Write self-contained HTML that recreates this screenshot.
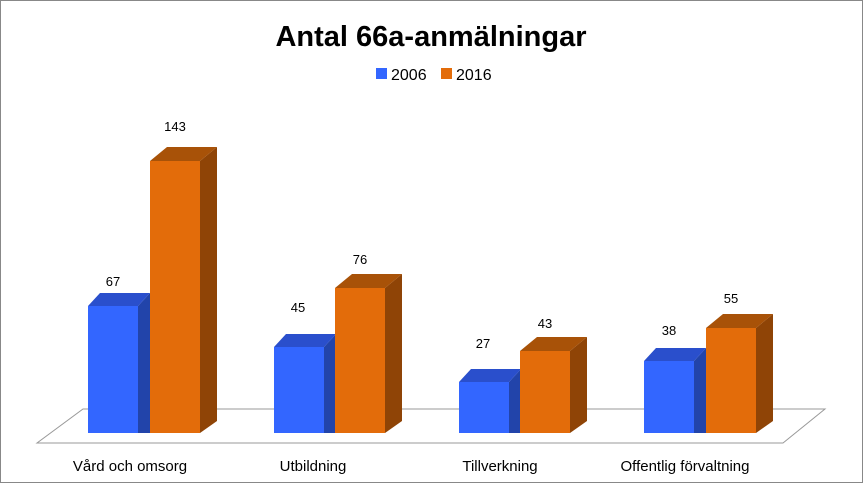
<!DOCTYPE html>
<html><head><meta charset="utf-8"><style>
body{margin:0;background:#fff}
svg{display:block;font-family:"Liberation Sans",sans-serif}
</style></head><body>
<svg width="863" height="483" viewBox="0 0 863 483">
<rect x="0.5" y="0.5" width="862" height="482" fill="#fff" stroke="#888"/>
<text x="431" y="46" font-size="29" font-weight="bold" text-anchor="middle">Antal 66a-anmälningar</text>
<rect x="376" y="68" width="11" height="11" fill="#3366ff"/>
<text x="391" y="80" font-size="16">2006</text>
<rect x="441" y="68" width="11" height="11" fill="#e36c0a"/>
<text x="456" y="80" font-size="16">2016</text>
<polygon points="37,443 783,443 825,409 83,409" fill="#fff" stroke="#999"/>
<g id="bars"></g>
<g font-size="15" text-anchor="middle">
<text x="130" y="471">Vård och omsorg</text>
<text x="313" y="471">Utbildning</text>
<text x="500" y="471">Tillverkning</text>
<text x="685" y="471">Offentlig förvaltning</text>
</g>
<g font-size="13" text-anchor="middle">
<text x="113" y="286">67</text><text x="175" y="131">143</text>
<text x="298" y="312">45</text><text x="360" y="264">76</text>
<text x="483" y="348">27</text><text x="545" y="328">43</text>
<text x="669" y="335">38</text><text x="731" y="303">55</text>
</g>
<!-- bars -->
<g>
<polygon points="138,306 150,293 150,433 138,433" fill="#2244aa"/><polygon points="88,306 100,293 150,293 138,306" fill="#2a4fcc"/><rect x="88" y="306" width="50" height="127" fill="#3366ff"/>
<polygon points="200,161 217,147 217,421 200,433" fill="#8f4406"/><polygon points="150,161 167,147 217,147 200,161" fill="#a85208"/><rect x="150" y="161" width="50" height="272" fill="#e36c0a"/>

<polygon points="324,347 336,334 336,433 324,433" fill="#2244aa"/><polygon points="274,347 286,334 336,334 324,347" fill="#2a4fcc"/><rect x="274" y="347" width="50" height="86" fill="#3366ff"/>
<polygon points="385,288 402,274 402,421 385,433" fill="#8f4406"/><polygon points="335,288 352,274 402,274 385,288" fill="#a85208"/><rect x="335" y="288" width="50" height="145" fill="#e36c0a"/>

<polygon points="509,382 521,369 521,433 509,433" fill="#2244aa"/><polygon points="459,382 471,369 521,369 509,382" fill="#2a4fcc"/><rect x="459" y="382" width="50" height="51" fill="#3366ff"/>
<polygon points="570,351 587,337 587,421 570,433" fill="#8f4406"/><polygon points="520,351 537,337 587,337 570,351" fill="#a85208"/><rect x="520" y="351" width="50" height="82" fill="#e36c0a"/>

<polygon points="694,361 706,348 706,433 694,433" fill="#2244aa"/><polygon points="644,361 656,348 706,348 694,361" fill="#2a4fcc"/><rect x="644" y="361" width="50" height="72" fill="#3366ff"/>
<polygon points="756,328 773,314 773,421 756,433" fill="#8f4406"/><polygon points="706,328 723,314 773,314 756,328" fill="#a85208"/><rect x="706" y="328" width="50" height="105" fill="#e36c0a"/>
</g>
</svg>
</body></html>
